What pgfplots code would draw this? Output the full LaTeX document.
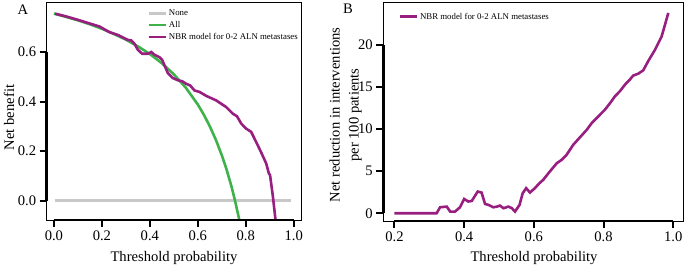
\documentclass[border=0pt]{standalone}
\usepackage{fontspec}
\setmainfont{Liberation Serif}
\usepackage{pgfplots}
\pgfplotsset{compat=1.18}
\definecolor{nonegray}{RGB}{200,200,200}
\definecolor{allgreen}{RGB}{62,178,74}
\definecolor{nbrpurple}{RGB}{152,30,128}
\newcommand{\bigf}{\fontsize{14.6}{18}\selectfont}
\pgfplotsset{
  dcastyle/.style={
    scale only axis,
    axis line style={line width=0.8pt},
    tick align=outside,
    xtick pos=left, ytick pos=left,
    major tick length=7pt,
    every tick/.style={line width=2pt, black},
    tick label style={font=\bigf},
    /pgf/number format/assume math mode=true,
    clip mode=individual,
    legend style={draw=none, fill=none, font=\fontsize{8.8}{10}\selectfont, inner sep=0pt, row sep=0pt},
    legend cell align=left,
    legend image code/.code={\draw[##1] (0pt,0pt) -- (17pt,0pt);},
  }
}
\begin{document}
\begin{tikzpicture}[x=1pt,y=1pt]
\useasboundingbox (0,0) rectangle (685,270);
% Panel A
\begin{axis}[dcastyle,
  at={(46.7pt,50pt)}, anchor=south west,
  width=254.3pt, height=217.5pt,
  xmin=-0.03, xmax=1.03, ymin=-0.078, ymax=0.80,
  xtick={0,0.2,0.4,0.6,0.8,1.0}, ytick={0,0.2,0.4,0.6},
  xticklabel style={/pgf/number format/.cd, fixed, fixed zerofill, precision=1},
  yticklabel style={/pgf/number format/.cd, fixed, fixed zerofill, precision=1},
  legend style={at={(rel axis cs:0.395,0.975)}, anchor=north west},
]
\addplot[nonegray, line width=2.6pt] coordinates {(0.005,0) (0.99,0)};
\addlegendentry{None}
\addplot[allgreen, line width=2.6pt] coordinates {
(0,0.755) (0.05,0.742) (0.1,0.728) (0.15,0.712) (0.2,0.694) (0.25,0.673) (0.3,0.650)
(0.35,0.623) (0.4,0.592) (0.45,0.555) (0.5,0.510) (0.55,0.456) (0.6,0.388) (0.625,0.347)
(0.65,0.300) (0.675,0.246) (0.7,0.183) (0.72,0.125) (0.74,0.058) (0.755,0.0) (0.77,-0.065) (0.7735,-0.080)};
\addlegendentry{All}
\addplot[nbrpurple, line width=2.6pt] coordinates {
(0.005,0.755) (0.05,0.744) (0.1,0.730) (0.15,0.715) (0.19,0.703) (0.232,0.680) (0.267,0.669)
(0.308,0.649) (0.322,0.647) (0.336,0.633) (0.35,0.609) (0.368,0.593) (0.392,0.593) (0.406,0.600)
(0.419,0.589) (0.44,0.579) (0.451,0.569) (0.461,0.546) (0.475,0.515) (0.496,0.495) (0.517,0.486)
(0.535,0.482) (0.551,0.472) (0.568,0.465) (0.586,0.445) (0.607,0.439) (0.635,0.423) (0.676,0.405)
(0.718,0.378) (0.746,0.351) (0.763,0.341) (0.781,0.311) (0.801,0.291) (0.822,0.278) (0.843,0.237)
(0.863,0.197) (0.885,0.150) (0.896,0.110) (0.901,0.103) (0.913,0.016) (0.924,-0.080)};
\addlegendentry{NBR model for 0-2 ALN metastases}
\draw[line width=2.5pt] ({rel axis cs:0,0}|-{axis cs:0,0}) -- ({rel axis cs:0,0}|-{axis cs:0,0.6});
\draw[line width=2.5pt] ({axis cs:0,0}|-{rel axis cs:0,0}) -- ({axis cs:1,0}|-{rel axis cs:0,0});
\end{axis}
% Panel B
\begin{axis}[dcastyle,
  at={(383.3pt,49pt)}, anchor=south west,
  width=300pt, height=218.5pt,
  xmin=0.168, xmax=1.029, ymin=-0.92, ymax=25.04,
  xtick={0.2,0.4,0.6,0.8,1.0}, ytick={0,5,10,15,20},
  xticklabel style={/pgf/number format/.cd, fixed, fixed zerofill, precision=1},
  legend style={at={(rel axis cs:0.05,0.935)}, anchor=west},
]
\addplot[nbrpurple, line width=2.6pt] coordinates {
(0.2,0) (0.321,0) (0.331,0.71) (0.350,0.79) (0.360,0.2) (0.374,0.2) (0.388,0.71) (0.400,1.7)
(0.412,1.39) (0.422,1.47) (0.439,2.58) (0.450,2.46) (0.460,1.11) (0.470,0.99) (0.484,0.71)
(0.494,0.79) (0.503,0.91) (0.513,0.6) (0.527,0.79) (0.537,0.6) (0.546,0.2) (0.559,0.99)
(0.568,2.38) (0.578,2.98) (0.589,2.46) (0.603,2.98) (0.616,3.57) (0.627,3.97) (0.642,4.76)
(0.654,5.36) (0.666,5.95) (0.680,6.35) (0.694,6.94) (0.713,8.13) (0.733,9.05) (0.752,9.92)
(0.766,10.71) (0.785,11.51) (0.804,12.3) (0.819,13.1) (0.833,13.9) (0.847,14.5) (0.862,15.3)
(0.876,15.9) (0.885,16.35) (0.900,16.59) (0.914,16.98) (0.928,18.06) (0.948,19.44) (0.967,21.03) (0.986,23.8)};
\addlegendentry{NBR model for 0-2 ALN metastases}
\draw[line width=2.5pt] ({rel axis cs:0,0}|-{axis cs:0.2,0}) -- ({rel axis cs:0,0}|-{axis cs:0.2,20});
\draw[line width=2.5pt] ({axis cs:0.2,0}|-{rel axis cs:0,0}) -- ({axis cs:1,0}|-{rel axis cs:0,0});
\end{axis}
% labels
\node[font=\bigf] at (23,260.5) {A};
\node[font=\bigf] at (348,261) {B};
\node[font=\bigf, rotate=90] at (9,152.5) {Net benefit};
\node[font=\bigf, anchor=base] at (174,8) {Threshold probability};
\node[font=\bigf, anchor=base] at (534,8) {Threshold probability};
\node[font=\fontsize{14.6}{19}\selectfont, rotate=90, align=center] at (345.5,155) {Net reduction in interventions\\per 100 patients};
\end{tikzpicture}
\end{document}
